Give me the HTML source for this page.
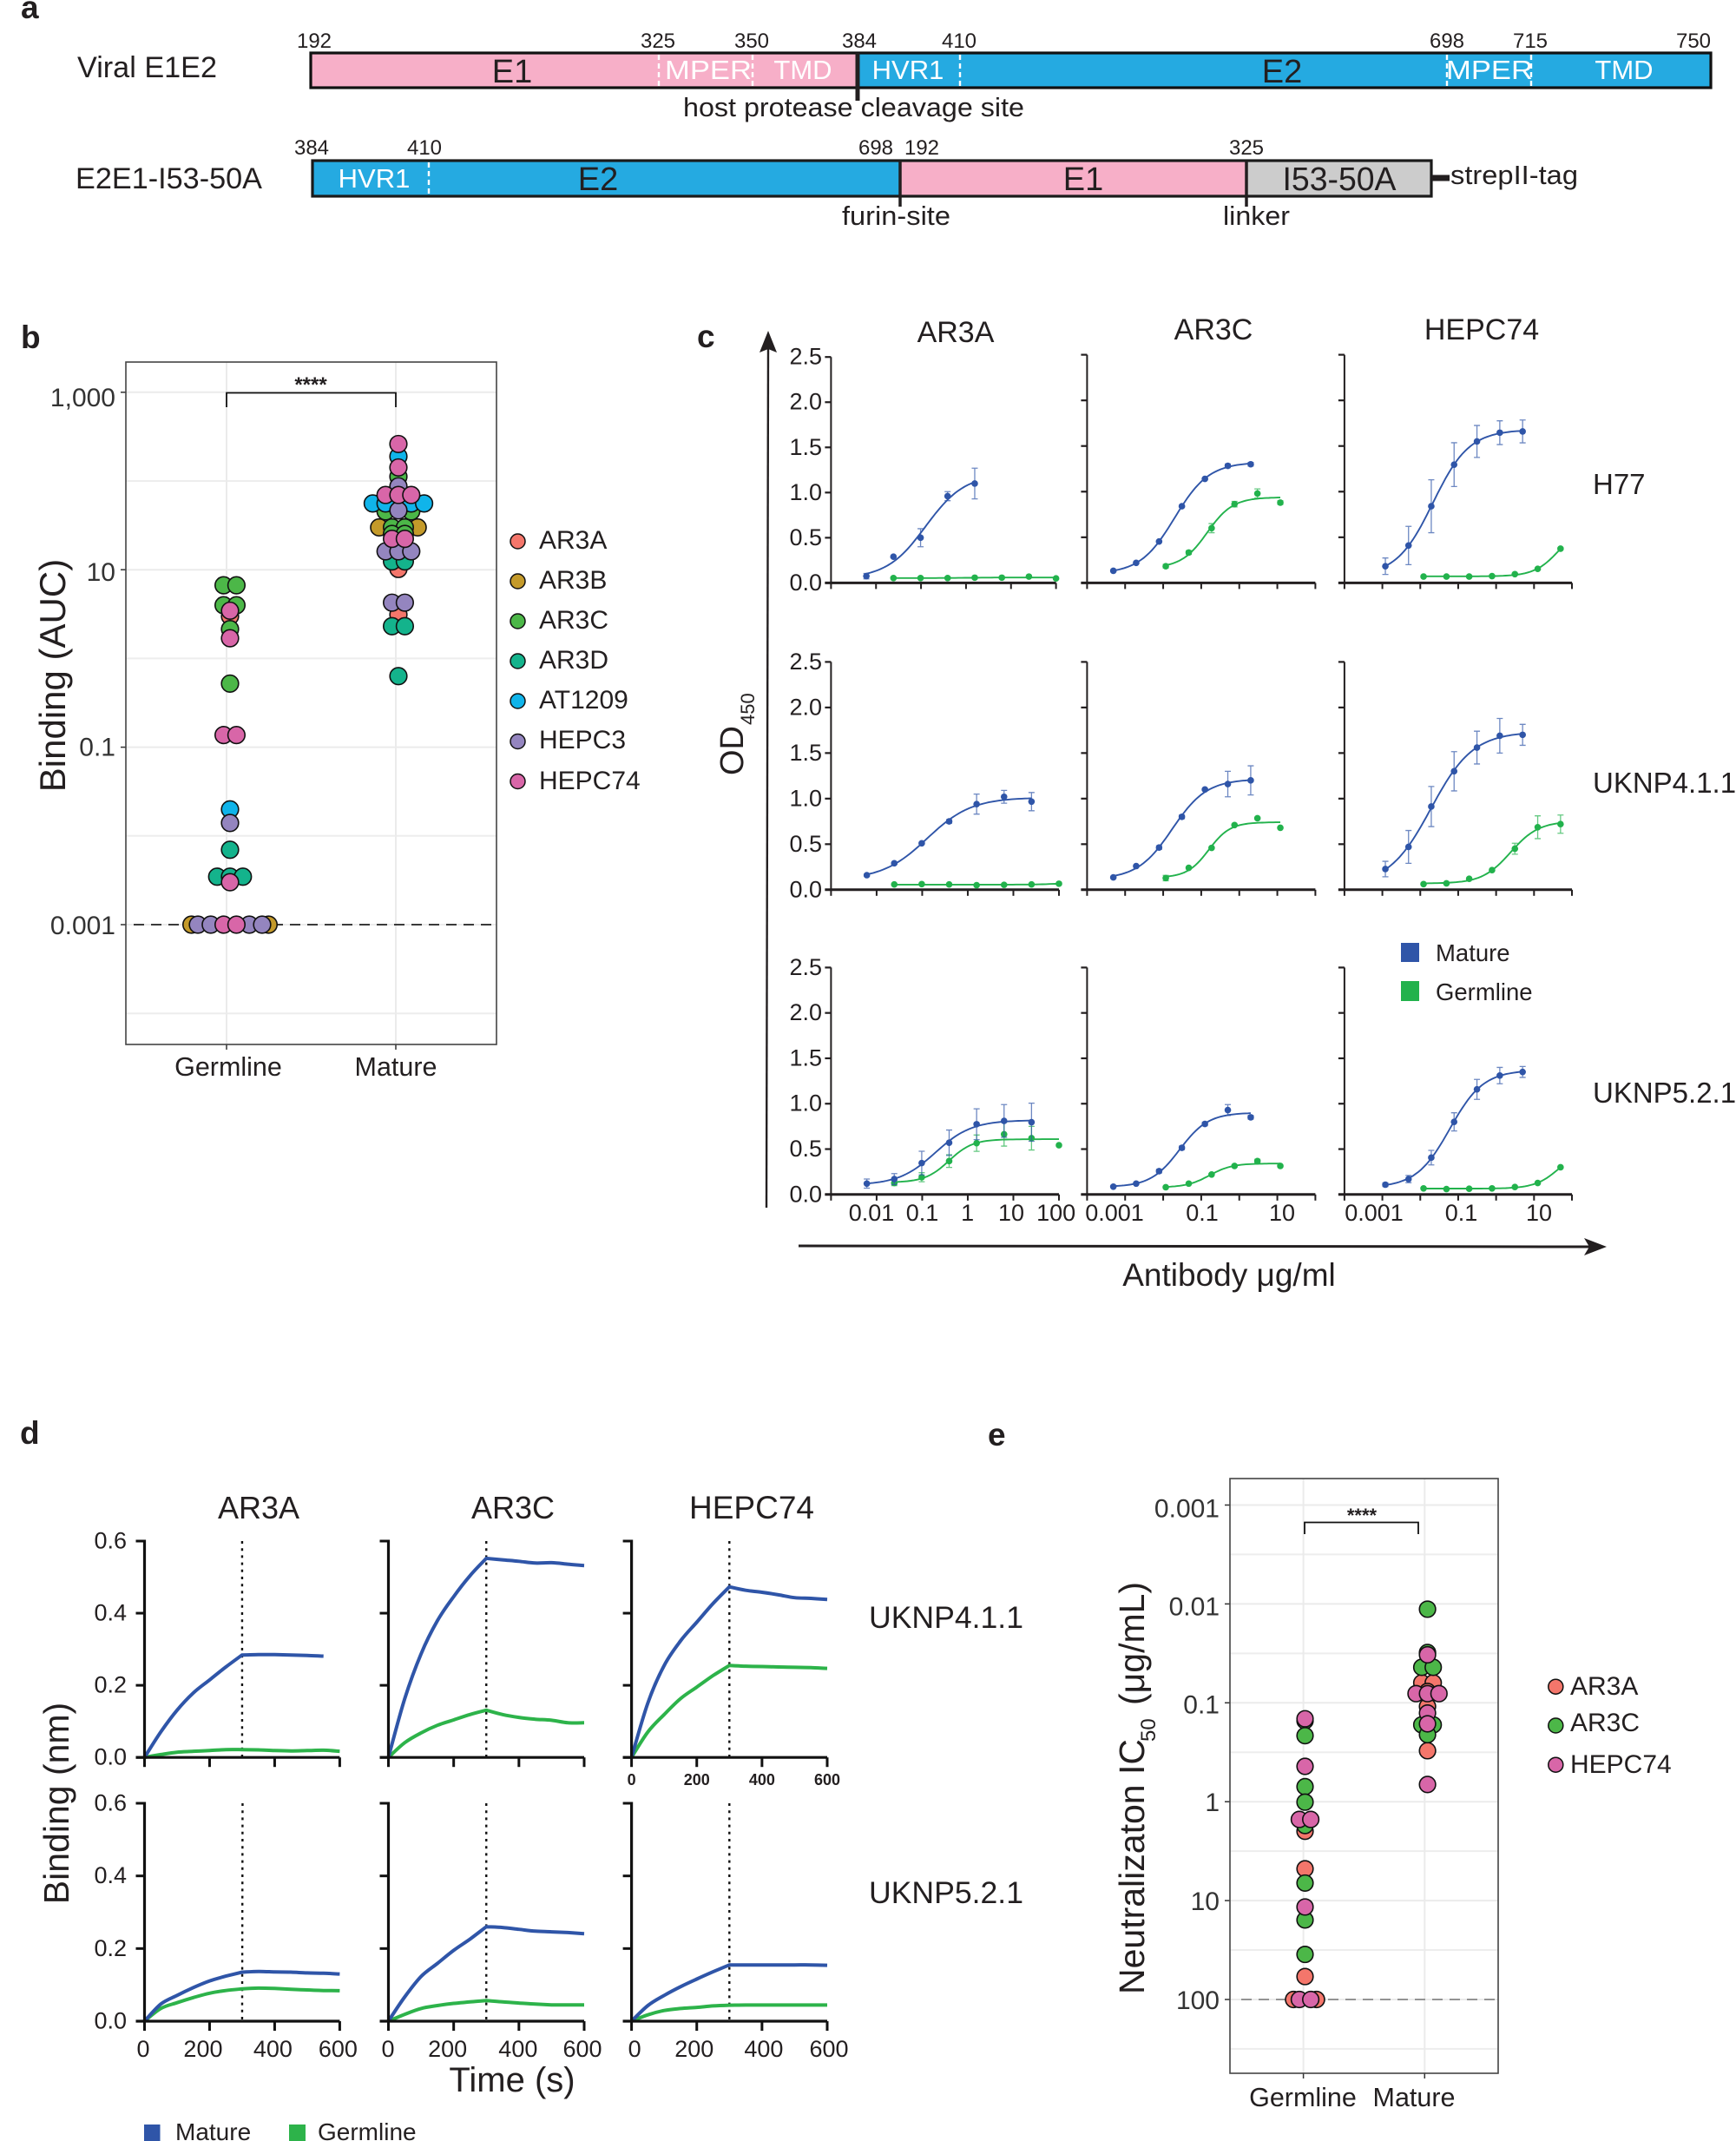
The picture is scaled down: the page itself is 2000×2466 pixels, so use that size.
<!DOCTYPE html>
<html lang="en">
<head>
<meta charset="utf-8">
<title>Germline and mature antibody binding figure</title>
<style>
html,body{margin:0;padding:0;background:#fff;}
svg{display:block;font-family:"Liberation Sans","DejaVu Sans",sans-serif;fill:#231F20;}
.w{fill:#fff;}
.letter{font-weight:bold;font-size:37px;}
</style>
</head>
<body>
<svg id="figure" xmlns="http://www.w3.org/2000/svg" width="2000" height="2466" viewBox="0 0 2000 2466">
<rect x="0" y="0" width="2000" height="2466" fill="#fff"/>

<g>
  <text class="letter" x="24" y="21">a</text>
  <text x="89" y="89" font-size="34" textLength="161" lengthAdjust="spacingAndGlyphs">Viral E1E2</text>
  <g>
    <rect x="358" y="61" width="630" height="40" fill="#F7AFC8"/>
    <rect x="988" y="61" width="983" height="40" fill="#25AAE1"/>
    <rect x="358" y="61" width="1613" height="40" fill="none" stroke="#111" stroke-width="3.2"/>
    <line x1="988" y1="61" x2="988" y2="116" stroke="#231F20" stroke-width="5"/>
    <g stroke="#fff" stroke-width="2.4" stroke-dasharray="6 4">
      <line x1="759" y1="63" x2="759" y2="99"/>
      <line x1="867" y1="63" x2="867" y2="99"/>
      <line x1="1106" y1="63" x2="1106" y2="99"/>
      <line x1="1667" y1="63" x2="1667" y2="99"/>
      <line x1="1764" y1="63" x2="1764" y2="99"/>
    </g>
    <text x="590" y="95" font-size="38" text-anchor="middle">E1</text>
    <text class="w" x="816" y="91" font-size="31" text-anchor="middle" textLength="100" lengthAdjust="spacingAndGlyphs">MPER</text>
    <text class="w" x="925" y="91" font-size="31" text-anchor="middle">TMD</text>
    <text class="w" x="1046" y="91" font-size="31" text-anchor="middle">HVR1</text>
    <text x="1477" y="95" font-size="38" text-anchor="middle">E2</text>
    <text class="w" x="1716" y="91" font-size="31" text-anchor="middle" textLength="100" lengthAdjust="spacingAndGlyphs">MPER</text>
    <text class="w" x="1871" y="91" font-size="31" text-anchor="middle">TMD</text>
  </g>
  <g font-size="24" text-anchor="middle">
    <text x="362" y="55">192</text>
    <text x="758" y="55">325</text>
    <text x="866" y="55">350</text>
    <text x="990" y="55">384</text>
    <text x="1105" y="55">410</text>
    <text x="1667" y="55">698</text>
    <text x="1763" y="55">715</text>
    <text x="1951" y="55">750</text>
  </g>
  <text x="787" y="134" font-size="31" textLength="393" lengthAdjust="spacingAndGlyphs">host protease cleavage site</text>

  <text x="87" y="217" font-size="34" textLength="215" lengthAdjust="spacingAndGlyphs">E2E1-I53-50A</text>
  <g>
    <rect x="360" y="185" width="677" height="41" fill="#25AAE1"/>
    <rect x="1037" y="185" width="399" height="41" fill="#F7AFC8"/>
    <rect x="1436" y="185" width="213" height="41" fill="#CCCCCC"/>
    <rect x="360" y="185" width="1289" height="41" fill="none" stroke="#1a1a1a" stroke-width="3.2"/>
    <line x1="1037" y1="185" x2="1037" y2="238" stroke="#231F20" stroke-width="3.5"/>
    <line x1="1436" y1="185" x2="1436" y2="238" stroke="#231F20" stroke-width="3.5"/>
    <line x1="1649" y1="205" x2="1670" y2="205" stroke="#231F20" stroke-width="7"/>
    <line x1="494" y1="187" x2="494" y2="224" stroke="#fff" stroke-width="2.4" stroke-dasharray="6 4"/>
    <text class="w" x="431" y="216" font-size="31" text-anchor="middle">HVR1</text>
    <text x="689" y="219" font-size="38" text-anchor="middle">E2</text>
    <text x="1248" y="219" font-size="38" text-anchor="middle">E1</text>
    <text x="1543" y="219" font-size="38" text-anchor="middle" textLength="131" lengthAdjust="spacingAndGlyphs">I53-50A</text>
  </g>
  <g font-size="24" text-anchor="middle">
    <text x="359" y="178">384</text>
    <text x="489" y="178">410</text>
    <text x="1009" y="178">698</text>
    <text x="1062" y="178">192</text>
    <text x="1436" y="178">325</text>
  </g>
  <text x="1671" y="212" font-size="31" textLength="147" lengthAdjust="spacingAndGlyphs">strepII-tag</text>
  <text x="970" y="259" font-size="31" textLength="125" lengthAdjust="spacingAndGlyphs">furin-site</text>
  <text x="1409" y="259" font-size="31" textLength="77" lengthAdjust="spacingAndGlyphs">linker</text>
</g>

<g id="panel-b">
  <text class="letter" x="24" y="401">b</text>
  <text transform="translate(75,778) rotate(-90)" font-size="42" text-anchor="middle">Binding (AUC)</text>
  <text x="263" y="1239" font-size="30.5" text-anchor="middle">Germline</text>
  <text x="456" y="1239" font-size="30.5" text-anchor="middle">Mature</text>
  <text x="358" y="451" font-size="24" font-weight="bold" text-anchor="middle">****</text>
</g>

<g id="panel-c">
  <text class="letter" x="803" y="400">c</text>
  <text x="1101" y="394" font-size="34" text-anchor="middle">AR3A</text>
  <text x="1398" y="391" font-size="34" text-anchor="middle">AR3C</text>
  <text x="1707" y="391" font-size="34" text-anchor="middle">HEPC74</text>
  <text x="1835" y="569" font-size="33">H77</text>
  <text x="1835" y="913" font-size="33">UKNP4.1.1</text>
  <text x="1835" y="1270" font-size="33">UKNP5.2.1</text>
  <text transform="translate(856,893) rotate(-90)" font-size="38">OD</text>
  <text transform="translate(869,835) rotate(-90)" font-size="22">450</text>
  <text x="1416" y="1481" font-size="37" text-anchor="middle">Antibody &#956;g/ml</text>
  <line x1="885" y1="395" x2="883" y2="1391" stroke="#231F20" stroke-width="2.4"/>
  <polygon points="885,381 875,406 885,402 895,406" fill="#231F20"/>
  <line x1="920" y1="1435" x2="1835" y2="1436" stroke="#231F20" stroke-width="3"/>
  <polygon points="1851,1436 1825,1426 1831,1436 1825,1446" fill="#231F20"/>
  <rect x="1614" y="1086" width="21" height="22" fill="#2F55A8"/>
  <text x="1654" y="1107" font-size="27.5">Mature</text>
  <rect x="1614" y="1130" width="21" height="23" fill="#22B24C"/>
  <text x="1654" y="1152" font-size="27.5">Germline</text>
</g>

<g id="panel-d">
  <text class="letter" x="23" y="1663">d</text>
  <text x="298" y="1749" font-size="36" text-anchor="middle">AR3A</text>
  <text x="591" y="1749" font-size="36" text-anchor="middle">AR3C</text>
  <text x="866" y="1749" font-size="37" text-anchor="middle">HEPC74</text>
  <text x="1001" y="1875" font-size="35.6">UKNP4.1.1</text>
  <text x="1001" y="2192" font-size="35.6">UKNP5.2.1</text>
  <text transform="translate(79,2077) rotate(-90)" font-size="41" text-anchor="middle">Binding (nm)</text>
  <text x="590" y="2409" font-size="40" text-anchor="middle">Time (s)</text>
  <rect x="166" y="2447" width="18.5" height="19" fill="#2F55A8"/>
  <text x="202" y="2465" font-size="28">Mature</text>
  <rect x="333" y="2447" width="19" height="19" fill="#2DB34A"/>
  <text x="366" y="2465" font-size="28">Germline</text>
</g>

<g id="panel-e">
  <text class="letter" x="1138" y="1665">e</text>
  <text transform="translate(1318,2297) rotate(-90)" font-size="41">Neutralizaton IC</text>
  <text transform="translate(1331,2006) rotate(-90)" font-size="24">50</text>
  <text transform="translate(1318,1964) rotate(-90)" font-size="41">(&#956;g/mL)</text>
  <text x="1501" y="2426" font-size="30.5" text-anchor="middle">Germline</text>
  <text x="1629" y="2426" font-size="30.5" text-anchor="middle">Mature</text>
  <text x="1569" y="1753" font-size="22" font-weight="bold" text-anchor="middle">****</text>
</g>
</svg>

<script>
// ---------- Panel b data ----------
const bAntibodies = ['AR3A','AR3B','AR3C','AR3D','AT1209','HEPC3','HEPC74'];
const bTickValues = [1000, 10, 0.1, 0.001];
const bTickLabels = ['1,000', '10', '0.1', '0.001'];
const bGermlineAuc = [2.99, 0.001,0.001, 6.68,6.68,3.98,3.98,2.14,0.521, 0.00698,0.00347,0.00347,0.00347, 0.0199, 0.014,0.001,0.001,0.001,0.001, 3.45,1.69,0.137,0.137,0.00301,0.001,0.001];
const bGermlineAntibody = [0, 1,1, 2,2,2,2,2,2, 3,3,3,3, 4, 5,5,5,5,5, 6,6,6,6,6,6,6];
const bGermlineSlot = [0, -6,6, -1,1,-1,1,0,0, 0,-2,0,2, 0, 0,-5,-3,3,5, 0,0,-1,1,0,-1,1];
const bMatureAuc = [10.2,3.11, 30,30, 112,45.4,45.4,30,30,25.3,25.3, 12.4,12.4,18.3,2.31,2.31,0.632, 189,55.8,55.8,55.8,55.8, 87,46.6,16.1,16.1,16.1,4.25,4.25, 261,142,69.6,69.6,69.6,22.3,22.3];
const bMatureAntibody = [0,0, 1,1, 2,2,2,2,2,2,2, 3,3,3,3,3,3, 4,4,4,4,4, 5,5,5,5,5,5,5, 6,6,6,6,6,6,6];
const bMatureSlot = [0,0, -3,3, 0,-2,2,-1,1,-1,1, -1,1,0,-1,1,0, 0,-4,-2,2,4, 0,0,-2,0,2,-1,1, 0,0,-2,0,2,-1,1];

// ---------- Panel c data ----------
const cMatureDose = [
  [0.0061,0.0244,0.0977,0.39,1.5625,6.25,25],
  [0.00049,0.00195,0.0078,0.031,0.125,0.5,2],
  [0.0012,0.0049,0.0195,0.078,0.3125,1.25,5]
];
const cGermlineDose = [
  [0.0244,0.0977,0.39,1.5625,6.25,25,100],
  [0.0117,0.047,0.1875,0.75,3,12],
  [0.0122,0.049,0.195,0.78,3.125,12.5,50]
];
const cMatureOd = [
  [[0.075,0.29,0.50,0.96,1.10],[0.133,0.22,0.454,0.84,1.14,1.283,1.30],[0.183,0.41,0.84,1.296,1.55,1.646,1.66]],
  [[0.16,0.29,0.51,0.75,0.94,1.02,0.967],[0.136,0.26,0.463,0.80,1.10,1.16,1.20],[0.227,0.47,0.913,1.30,1.56,1.69,1.70]],
  [[0.12,0.17,0.346,0.57,0.774,0.81,0.796],[0.086,0.12,0.257,0.514,0.777,0.93,0.85],[0.108,0.17,0.406,0.80,1.158,1.31,1.35]]
];
const cMatureErr = [
  [[0.03,0.01,0.10,0.05,0.17],[0.01,0.01,0.01,0.01,0.01,0.02,0.02],[0.09,0.21,0.29,0.24,0.175,0.13,0.125]],
  [[0.01,0.01,0.01,0.02,0.11,0.07,0.10],[0.01,0.01,0.02,0.02,0.01,0.14,0.16],[0.085,0.18,0.22,0.215,0.18,0.19,0.115]],
  [[0.05,0.06,0.13,0.14,0.17,0.18,0.21],[0.01,0.01,0.02,0.02,0.02,0.06,0.02],[0.02,0.04,0.08,0.10,0.11,0.09,0.06]]
];
const cGermlineOd = [
  [[0.054,0.054,0.054,0.058,0.058,0.07,0.05],[0.183,0.333,0.60,0.863,0.98,0.88],[0.07,0.07,0.07,0.075,0.096,0.154,0.375]],
  [[0.058,0.062,0.058,0.05,0.054,0.058,0.066],[0.128,0.24,0.459,0.71,0.785,0.68],[0.062,0.07,0.12,0.215,0.45,0.686,0.72]],
  [[0.127,0.19,0.368,0.565,0.663,0.62,0.543],[0.08,0.12,0.22,0.314,0.368,0.314],[0.067,0.06,0.063,0.067,0.082,0.127,0.30]]
];
const cGermlineErr = [
  [[0.01,0.01,0.01,0.01,0.01,0.01,0.01],[0.02,0.02,0.05,0.03,0.05,0.02],[0.01,0.01,0.01,0.01,0.01,0.01,0.01]],
  [[0.01,0.01,0.01,0.01,0.01,0.01,0.01],[0.03,0.01,0.01,0.01,0.01,0.01],[0.01,0.01,0.01,0.01,0.06,0.125,0.10]],
  [[0.03,0.05,0.07,0.09,0.13,0.13,0.01],[0.01,0.01,0.01,0.01,0.02,0.01],[0.01,0.01,0.01,0.01,0.01,0.01,0.01]]
];
const cYTickValues = [0, 0.5, 1, 1.5, 2, 2.5];
const cYTickLabels = ['0.0', '0.5', '1.0', '1.5', '2.0', '2.5'];
const cXFirstColumnTicks = [0.001, 0.01, 0.1, 1, 10, 100];
const cXOtherColumnTicks = [0.0001, 0.001, 0.01, 0.1, 1, 10, 100];

// ---------- Panel d data ----------
const dTimes = [0,50,100,150,200,250,300,350,400,450,500,550,600];
const dMature = [
  [[0,0.0706,0.131,0.179,0.215,0.251,0.284,0.285,0.285,0.284,0.283,0.281],[0,0.163,0.287,0.379,0.446,0.504,0.552,0.548,0.544,0.539,0.54,0.536,0.532],[0,0.151,0.255,0.323,0.375,0.427,0.473,0.4635,0.458,0.451,0.443,0.441,0.438]],
  [[0,0.047,0.071,0.0925,0.111,0.124,0.135,0.137,0.1356,0.135,0.133,0.132,0.13],[0,0.067,0.123,0.159,0.195,0.226,0.26,0.258,0.253,0.248,0.246,0.244,0.241],[0,0.043,0.071,0.095,0.116,0.136,0.155,0.155,0.155,0.155,0.155,0.155,0.154]]
];
const dGermline = [
  [[0,0.008,0.0144,0.017,0.019,0.0217,0.0217,0.021,0.019,0.018,0.019,0.02,0.017],[0,0.041,0.068,0.089,0.104,0.119,0.131,0.119,0.111,0.106,0.103,0.096,0.096],[0,0.0706,0.119,0.163,0.195,0.227,0.255,0.253,0.252,0.251,0.25,0.249,0.247]],
  [[0,0.035,0.051,0.065,0.077,0.0845,0.089,0.091,0.09,0.088,0.086,0.0845,0.084],[0,0.019,0.035,0.043,0.049,0.053,0.057,0.053,0.05,0.047,0.045,0.045,0.045],[0,0.0175,0.0295,0.035,0.038,0.042,0.044,0.0445,0.0445,0.0445,0.0445,0.0445,0.0445]]
];
const dYTicks = [0, 0.2, 0.4, 0.6];
const dYTickLabels = ['0.0', '0.2', '0.4', '0.6'];
const dXTicks = [0, 200, 400, 600];
const dXTickLabels = ['0', '200', '400', '600'];

// ---------- Panel e data ----------
const eAntibodies = ['AR3A','AR3C','HEPC74'];
const eTickValues = [0.001, 0.01, 0.1, 1, 10, 100];
const eTickLabels = ['0.001', '0.01', '0.1', '1', '10', '100'];
const eGermlineIc50 = [1.99,4.77,58.6,100,100, 0.152,0.215,0.705,1.01,1.74,6.65,15.7,35, 0.145,0.439,1.51,1.51,11.6,100,100];
const eGermlineAntibody = [0,0,0,0,0, 1,1,1,1,1,1,1,1, 2,2,2,2,2,2,2];
const eGermlineSlot = [0,0,0,-2,2, 0,0,0,0,0,0,0,0, 0,0,-1,1,0,-1,1];
const eMatureIc50 = [0.0628,0.0628,0.0768,0.109,0.305, 0.0113,0.031,0.0437,0.0437,0.167,0.167,0.21, 0.0327,0.0807,0.0807,0.0807,0.127,0.163,0.67];
const eMatureAntibody = [0,0,0,0,0, 1,1,1,1,1,1,1, 2,2,2,2,2,2,2];
const eMatureSlot = [-1,1,0,0,0, 0,0,-1,1,-1,1,0, 0,-2,0,2,0,0,0];

// ---------- Helpers ----------
const svgNS = 'http://www.w3.org/2000/svg';
const bPalette = ['#F4766B','#C49A2A','#4CB748','#14B38C','#10B4EA','#9485BF','#D866A8'];
const ePalette = ['#F4766B','#4CB748','#D866A8'];

function mk(parent, tag, attrs, name) {
  const el = document.createElementNS(svgNS, tag);
  for (const k in attrs) el.setAttribute(k, attrs[k]);
  
  
  parent.appendChild(el);
  return el;
}
function txt(parent, str, x, y, size, anchor, name, weight) {
  const el = mk(parent, 'text', {x: x, y: y, 'font-size': size, 'text-anchor': anchor}, name);
  if (weight) el.setAttribute('font-weight', weight);
  el.textContent = str;
  return el;
}
function line(parent, x1, y1, x2, y2, stroke, width, name, dash) {
  const el = mk(parent, 'line', {x1: x1, y1: y1, x2: x2, y2: y2, stroke: stroke, 'stroke-width': width}, name);
  if (dash) el.setAttribute('stroke-dasharray', dash);
  return el;
}
function slug(s) { return String(s).toLowerCase().replace(/[^a-z0-9]+/g, '-'); }

// ---------- Dot-plot panel ----------
function drawDotPlot(cfg) {
  const g = document.getElementById(cfg.id);
  const first = g.querySelector('text');
  const back = mk(g, 'g', {}, cfg.prefix + '-plot-area');
  g.insertBefore(back, first.nextSibling);
  const yScale = cfg.yScale;
  cfg.minorGrid.forEach(function (v, i) {
    line(back, cfg.left, yScale(v), cfg.right, yScale(v), '#EDEDED', 2, cfg.prefix + '-minor-gridline-' + i);
  });
  cfg.ticks.forEach(function (v, i) {
    line(back, cfg.left, yScale(v), cfg.right, yScale(v), '#EBEBEB', 2, cfg.prefix + '-gridline-' + slug(cfg.tickLabels[i]));
    line(back, cfg.left - 6, yScale(v), cfg.left, yScale(v), '#333', 1.5, cfg.prefix + '-y-tick-' + slug(cfg.tickLabels[i]));
    const t = txt(back, cfg.tickLabels[i], cfg.left - 12, yScale(v) + 11 + cfg.labelNudge[i], 30, 'end', cfg.prefix + '-y-tick-label-' + slug(cfg.tickLabels[i]));
    t.setAttribute('fill', '#333');
  });
  cfg.xTicks.forEach(function (x, i) {
    line(back, x, cfg.top, x, cfg.bottom, '#EBEBEB', 2, cfg.prefix + '-vertical-gridline-' + i);
    line(back, x, cfg.bottom, x, cfg.bottom + 6, '#333', 1.5, cfg.prefix + '-x-tick-' + i);
  });
  line(back, cfg.dashStart, yScale(cfg.limit), cfg.right, yScale(cfg.limit), cfg.dashColor, 1.8, cfg.prefix + '-detection-limit-line', '12 8');
  mk(back, 'rect', {x: cfg.left, y: cfg.top, width: cfg.right - cfg.left, height: cfg.bottom - cfg.top, fill: 'none', stroke: '#444', 'stroke-width': 1.6}, cfg.prefix + '-plot-border');
  mk(back, 'path', {d: 'M' + cfg.xTicks2[0] + ' ' + cfg.bracketEnd + 'V' + cfg.bracketY + 'H' + cfg.xTicks2[1] + 'V' + cfg.bracketEnd, fill: 'none', stroke: '#111', 'stroke-width': 1.8}, cfg.prefix + '-significance-bracket');
  cfg.groups.forEach(function (grp) {
    grp.values.forEach(function (v, i) {
      mk(back, 'circle', {cx: grp.center + grp.slots[i] * cfg.slotWidth, cy: yScale(v), r: cfg.radius, fill: cfg.palette[grp.antibody[i]], stroke: '#111', 'stroke-width': 1.6}, cfg.prefix + '-dot-' + grp.name + '-' + slug(cfg.names[grp.antibody[i]]));
    });
  });
  cfg.names.forEach(function (n, i) {
    const entry = mk(g, 'g', {}, cfg.prefix + '-legend-entry-' + slug(n));
    mk(entry, 'circle', {cx: cfg.legendX, cy: cfg.legendY[i], r: 8.5, fill: cfg.palette[i], stroke: '#111', 'stroke-width': 1.5}, cfg.prefix + '-legend-dot-' + slug(n));
    txt(entry, n, cfg.legendTextX, cfg.legendTextY[i], 30, 'start', cfg.prefix + '-legend-label-' + slug(n));
  });
}
const bDecadePx = 102.2;
function bY(v) { return 1065 - (Math.log10(v) + 3) * bDecadePx; }
drawDotPlot({
  id: 'panel-b', prefix: 'b', left: 145, right: 572, top: 417, bottom: 1203, yScale: bY,
  ticks: bTickValues, tickLabels: bTickLabels, labelNudge: [5, 2, -1, 0],
  minorGrid: [100, 1, 0.01, 0.0001],
  xTicks: [261, 456], xTicks2: [261, 456], bracketY: 452.5, bracketEnd: 469,
  dashStart: 154, limit: 0.001, dashColor: '#222', slotWidth: 7.4, radius: 9.8,
  palette: bPalette, names: bAntibodies,
  legendX: 596.5, legendY: [623.5, 669.5, 715.5, 761.5, 807.5, 854, 900],
  legendTextY: [632, 678, 724, 770, 816, 862, 909], legendTextX: 621,
  groups: [
    {name: 'germline', center: 265, values: bGermlineAuc, antibody: bGermlineAntibody, slots: bGermlineSlot},
    {name: 'mature', center: 459, values: bMatureAuc, antibody: bMatureAntibody, slots: bMatureSlot}
  ]
});
const eDecadePx = 113.9;
function eY(v) { return 2303 + (Math.log10(v) - 2) * eDecadePx; }
drawDotPlot({
  id: 'panel-e', prefix: 'e', left: 1417, right: 1726, top: 1703, bottom: 2388, yScale: eY,
  ticks: eTickValues, tickLabels: eTickLabels, labelNudge: [3, 2, 1, 0, 0, 0],
  minorGrid: [0.00316, 0.0316, 0.316, 3.16, 31.6, 316],
  xTicks: [1501.6, 1641.3], xTicks2: [1503, 1634], bracketY: 1753.5, bracketEnd: 1767,
  dashStart: 1430, limit: 100, dashColor: '#888', slotWidth: 6.6, radius: 9.3,
  palette: ePalette, names: eAntibodies,
  legendX: 1792.3, legendY: [1942.7, 1987.5, 2032.7],
  legendTextY: [1952, 1994, 2042], legendTextX: 1809,
  groups: [
    {name: 'germline', center: 1503.5, values: eGermlineIc50, antibody: eGermlineAntibody, slots: eGermlineSlot},
    {name: 'mature', center: 1644.6, values: eMatureIc50, antibody: eMatureAntibody, slots: eMatureSlot}
  ]
});

// ---------- Panel c ----------
function fitLogistic(xs, ys) {
  const model = function (p, x) { return p[0] + (p[1] - p[0]) / (1 + Math.pow(10, (p[2] - x) * p[3])); };
  const sse = function (p) {
    let s = 0;
    xs.forEach(function (x, i) { const d = model(p, x) - ys[i]; s += d * d; });
    return s;
  };
  let p = [Math.min.apply(null, ys), Math.max.apply(null, ys), xs.reduce(function (a, b) { return a + b; }, 0) / xs.length, 1.4];
  const step = [0.1, 0.1, 0.3, 0.3];
  let best = sse(p);
  for (let it = 0; it < 600; it++) {
    let improved = false;
    for (let i = 0; i < 4; i++) {
      [1, -1].forEach(function (d) {
        const q = p.slice();
        q[i] += d * step[i];
        if (q[3] < 0.7 || q[3] > 2.2 || q[0] < 0) return;
        const s = sse(q);
        if (s < best) { best = s; p = q; improved = true; }
      });
    }
    if (!improved) for (let i = 0; i < 4; i++) step[i] *= 0.6;
  }
  return function (x) { return model(p, x); };
}
(function drawPanelC() {
  const g = document.getElementById('panel-c');
  const colLeft = [957.4, 1252.4, 1548.9];
  const colRight = [1220, 1515.4, 1811];
  const rowZero = [671.4, 1024.8, 1375.8];
  const rowTop = [[411.2, 408.6, 408.6], [762.4, 762.4, 762.4], [1114.4, 1114.4, 1114.4]];
  const xLabelCenters = [[1004, 1062.5, 1114.6, 1165, 1216.6], [1284, 1385, 1477], [1583, 1683.5, 1773]];
  const xLabels = [['0.01', '0.1', '1', '10', '100'], ['0.001', '0.1', '10'], ['0.001', '0.1', '10']];
  cMatureOd.forEach(function (row, r) {
    row.forEach(function (_, c) {
      const panel = mk(g, 'g', {}, 'c-panel-row' + (r + 1) + '-col' + (c + 1));
      const left = colLeft[c];
      const right = (r === 0 && c === 0) ? 1216.6 : colRight[c];
      const ticks = c === 0 ? cXFirstColumnTicks : cXOtherColumnTicks;
      const lo = Math.log10(ticks[0]);
      const hi = Math.log10(ticks[ticks.length - 1]);
      const xS = function (lx) { return left + (lx - lo) / (hi - lo) * (right - left); };
      const zero = rowZero[r];
      const unit = (zero - rowTop[r][c]) / 2.5;
      const yS = function (v) { return zero - v * unit; };
      line(panel, left, yS(2.5), left, zero, '#231F20', 2, 'c-y-axis');
      cYTickValues.forEach(function (v, i) {
        line(panel, left - 7, yS(v), left, yS(v), '#231F20', 2.2, 'c-y-tick-' + slug(cYTickLabels[i]));
        if (c === 0) txt(panel, cYTickLabels[i], 947, yS(v) + 8.5, 27, 'end', 'c-y-tick-label-' + slug(cYTickLabels[i]));
      });
      line(panel, left - 7, zero, right, zero, '#231F20', 3, 'c-x-axis');
      ticks.forEach(function (t, i) {
        const x = xS(Math.log10(t));
        line(panel, x, zero, x, zero + 7, '#231F20', 2, 'c-x-tick-' + i);
      });
      if (r === 2) {
        xLabels[c].forEach(function (l, i) {
          txt(panel, l, xLabelCenters[c][i], 1406, 27, 'middle', 'c-x-tick-label-' + slug(l));
        });
      }
      const series = [
        {name: 'germline', color: '#22B24C', dose: cGermlineDose[c], od: cGermlineOd[r][c], err: cGermlineErr[r][c]},
        {name: 'mature', color: '#2F55A8', dose: cMatureDose[c], od: cMatureOd[r][c], err: cMatureErr[r][c]}
      ];
      series.forEach(function (s) {
        const xs = s.od.map(function (_, i) { return Math.log10(s.dose[i]); });
        const fit = fitLogistic(xs, s.od);
        const a = xs[0];
        const b = xs[xs.length - 1];
        let d = '';
        for (let k = 0; k <= 50; k++) {
          const lx = a + (b - a) * k / 50;
          d += (k ? 'L' : 'M') + xS(lx).toFixed(1) + ' ' + yS(fit(lx)).toFixed(1);
        }
        mk(panel, 'path', {d: d, fill: 'none', stroke: s.color, 'stroke-width': 1.9}, 'c-fit-curve-' + s.name);
        s.od.forEach(function (v, i) {
          const x = xS(xs[i]);
          const e = s.err[i];
          const bar = mk(panel, 'path', {d: 'M' + (x - 3.5) + ' ' + yS(v + e) + 'H' + (x + 3.5) + 'M' + x + ' ' + yS(v + e) + 'V' + yS(v - e) + 'M' + (x - 3.5) + ' ' + yS(v - e) + 'H' + (x + 3.5), fill: 'none', stroke: s.color, 'stroke-width': 1.3, opacity: 0.7}, 'c-error-bar-' + s.name);
          bar.setAttribute('stroke-linecap', 'butt');
          mk(panel, 'circle', {cx: x, cy: yS(v), r: 3.8, fill: s.color}, 'c-point-' + s.name);
        });
      });
    });
  });
})();

// ---------- Panel d ----------
function smoothPath(pts) {
  let d = 'M' + pts[0][0].toFixed(1) + ' ' + pts[0][1].toFixed(1);
  for (let i = 0; i < pts.length - 1; i++) {
    const p0 = pts[Math.max(i - 1, 0)];
    const p1 = pts[i];
    const p2 = pts[i + 1];
    const p3 = pts[Math.min(i + 2, pts.length - 1)];
    d += 'C' + (p1[0] + (p2[0] - p0[0]) / 6).toFixed(1) + ' ' + (p1[1] + (p2[1] - p0[1]) / 6).toFixed(1) + ' ' +
         (p2[0] - (p3[0] - p1[0]) / 6).toFixed(1) + ' ' + (p2[1] - (p3[1] - p1[1]) / 6).toFixed(1) + ' ' +
         p2[0].toFixed(1) + ' ' + p2[1].toFixed(1);
  }
  return d;
}
(function drawPanelD() {
  const g = document.getElementById('panel-d');
  const colLeft = [166.5, 447.5, 727.6];
  const colRight = [391.4, 673, 953];
  const rowZero = [2024.2, 2328];
  const rowTop = [1775, 2077];
  const labelOffsets = [[-1.5, -7.5, -2, -2], [-0.5, -7, -1, -2], [3.5, -3, 2, 2]];
  const smallOffsets = [0, 0, 0, 0];
  const yLabelRight = 146;
  dMature.forEach(function (row, r) {
    row.forEach(function (_, c) {
      const panel = mk(g, 'g', {}, 'd-panel-row' + (r + 1) + '-col' + (c + 1));
      const left = colLeft[c];
      const right = colRight[c];
      const zero = rowZero[r];
      const unit = (zero - rowTop[r]) / 0.6;
      const xS = function (t) { return left + t / 600 * (right - left); };
      const yS = function (v) { return zero - v * unit; };
      line(panel, xS(300) + (r === 1 && c === 0 ? 0.5 : 0), rowTop[r], xS(300), zero, '#111', 2.4, 'd-association-end-line', '3 5.2');
      const curves = [
        {name: 'germline', color: '#2DB34A', values: dGermline[r][c]},
        {name: 'mature', color: '#2F55A8', values: dMature[r][c]}
      ];
      curves.forEach(function (s) {
        const pts = s.values.map(function (v, i) { return [xS(dTimes[i]), yS(v)]; });
        const kink = dTimes.indexOf(300);
        const d = smoothPath(pts.slice(0, kink + 1)) + smoothPath(pts.slice(kink)).replace(/^M[^C]+/, '');
        mk(panel, 'path', {d: d, fill: 'none', stroke: s.color, 'stroke-width': 4}, 'd-curve-' + s.name);
      });
      line(panel, left, rowTop[r] - 1.5, left, zero + 1.5, '#111', 3.2, 'd-y-axis');
      line(panel, left - 10, zero, right, zero, '#111', 3.2, 'd-x-axis');
      dYTicks.forEach(function (v, i) {
        line(panel, left - 10, yS(v), left, yS(v), '#111', 3, 'd-y-tick-' + slug(dYTickLabels[i]));
        if (c === 0) txt(panel, dYTickLabels[i], yLabelRight, yS(v) + 8.5, 27, 'end', 'd-y-tick-label-' + slug(dYTickLabels[i]));
      });
      dXTicks.forEach(function (t, i) {
        line(panel, xS(t), zero, xS(t), zero + 11, '#111', 3, 'd-x-tick-' + dXTickLabels[i]);
        if (r === 1) txt(panel, dXTickLabels[i], xS(t) + labelOffsets[c][i], 2369, 27, 'middle', 'd-x-tick-label-' + dXTickLabels[i]);
        if (r === 0 && c === 2) txt(panel, dXTickLabels[i], xS(t) + smallOffsets[i], 2056, 18, 'middle', 'd-x-tick-label-small-' + dXTickLabels[i], 'bold');
      });
    });
  });
})();
</script>
</body>
</html>
